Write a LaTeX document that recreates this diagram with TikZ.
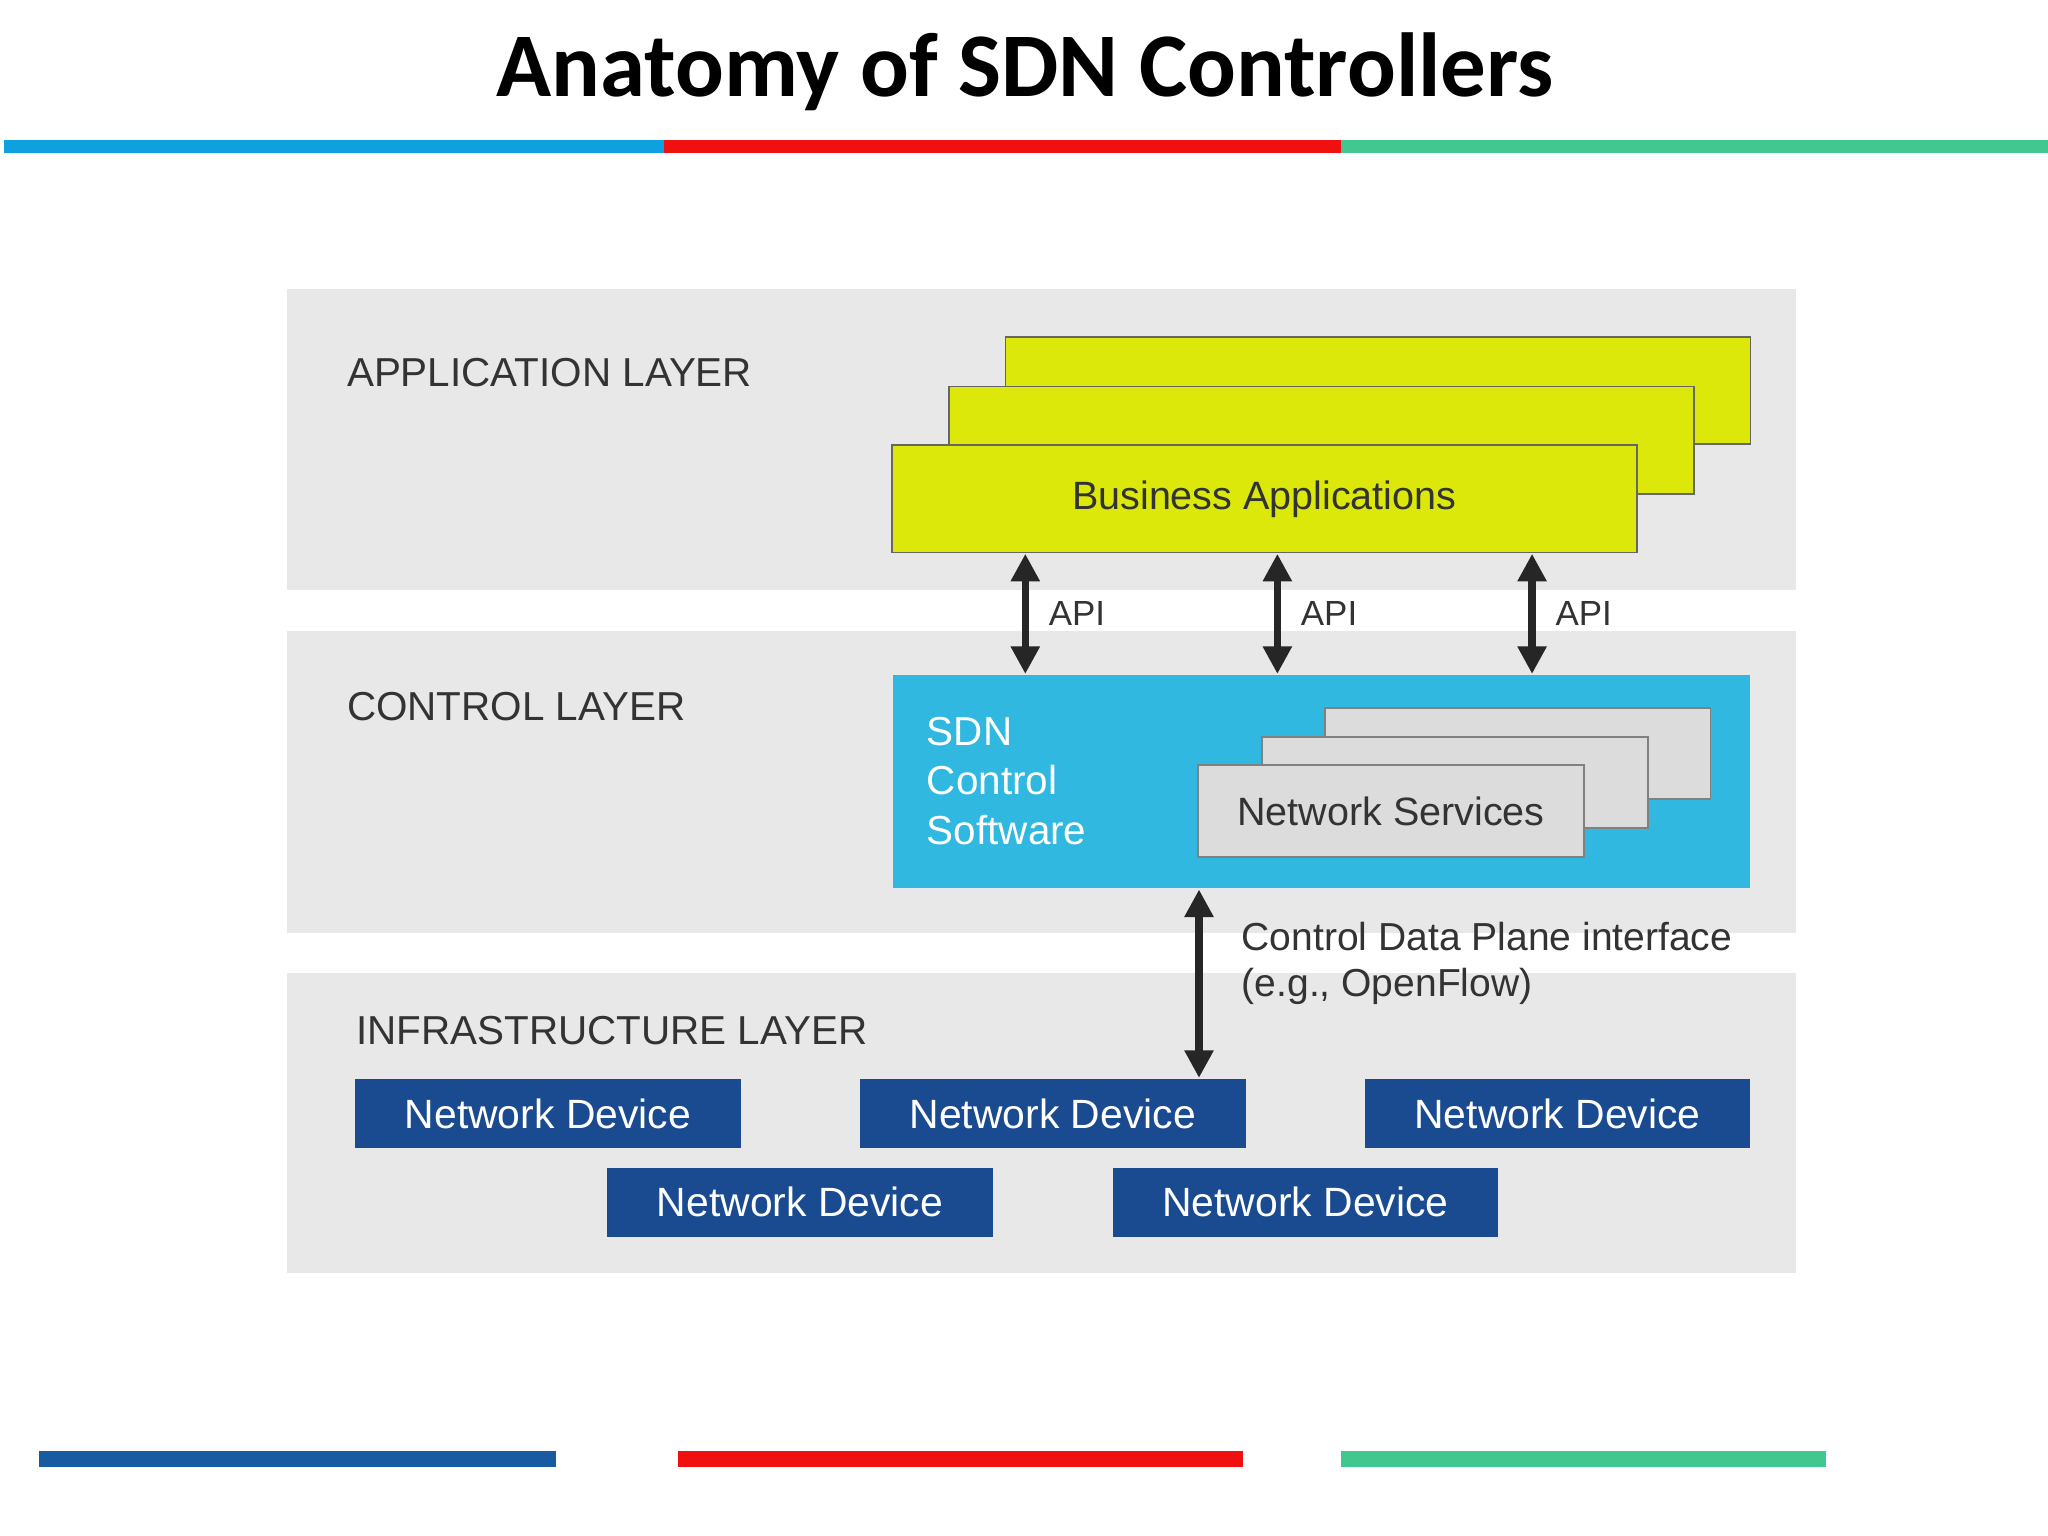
\documentclass[tikz,border=0pt]{standalone}
\usepackage{fontspec}
\setmainfont{Liberation Sans}
\newfontfamily\titlefont{Carlito}
\usetikzlibrary{positioning,arrows.meta}
\definecolor{appyellow}{HTML}{DCE80A}
\definecolor{ctrlblue}{HTML}{30B8E0}
\definecolor{devblue}{HTML}{1A4A90}
\definecolor{bandgray}{HTML}{E8E8E8}
\definecolor{svcgray}{HTML}{DCDCDC}
\definecolor{lineblue}{HTML}{0FA0E0}
\definecolor{linered}{HTML}{F01010}
\definecolor{linegreen}{HTML}{40C890}
\tikzset{x=0.01cm, y=-0.01cm, % one unit per pixel of the slide
band/.style={fill=bandgray, draw=none}, % the three layers
layer/.style={anchor=west, inner sep=0pt, font=\fontsize{8.8}{10}\selectfont, text=black!80}, % layer titles
app/.style={draw=black!60, fill=appyellow, minimum width=5.7cm, minimum height=0.82cm}, % business apps
svc/.style={draw=black!50, fill=svcgray, minimum width=2.95cm, minimum height=0.7cm}, % network services
dev/.style={fill=devblue, text=white, minimum width=2.95cm, minimum height=0.53cm, font=\fontsize{8.9}{11}\selectfont}, % devices
api/.style={{Triangle[width=6pt,length=6pt]}-{Triangle[width=6pt,length=6pt]}, line width=1.6pt, draw=black!85},
}
\begin{document}
\begin{tikzpicture}
\useasboundingbox (0,0) rectangle (1568,1176);
\node[font=\titlefont\bfseries\fontsize{19.8}{24}\selectfont] (title) at (785,55) {Anatomy of SDN Controllers};
\fill[lineblue] (3,107) rectangle (508,117);
\fill[linered] (508,107) rectangle (1027,117);
\fill[linegreen] (1027,107) rectangle (1568,117);
\fill[devblue!80!lineblue] (30,1111) rectangle (426,1123);
\fill[linered] (519,1111) rectangle (952,1123);
\fill[linegreen] (1027,1111) rectangle (1398,1123);
% layers
\fill[band] (220,221) rectangle (1375,452);
\fill[band] (220,483) rectangle (1375,714);
\fill[band] (220,745) rectangle (1375,975);
\node[layer] (applbl) at (265,285) {APPLICATION LAYER};
\node[layer] (ctrllbl) at (265,541) {CONTROL LAYER};
\node[layer] (infralbl) at (272,789) {INFRASTRUCTURE LAYER};
% applications
\node[app] (app3) at (1055,299) {};
\node[app] (app2) at (1012,337) {};
\node[app, font=\fontsize{8.6}{10}\selectfont, text=black!80] (app1) at (968,382) {Business Applications};
% controller
\node[fill=ctrlblue, minimum width=6.56cm, minimum height=1.63cm] (ctrl) at (1012,598.5) {};
\node[anchor=west, align=left, text=white, inner sep=0pt, font=\fontsize{8.8}{10.8}\selectfont] (sdn) at (709,598) {SDN\\Control\\Software};
\node[svc] (svc3) at (1162,577) {};
\node[svc] (svc2) at (1114,599) {};
\node[svc, font=\fontsize{8.6}{10}\selectfont, text=black!80] (svc1) at (1065,621) {Network Services};
% APIs
\foreach \x/\n in {785/a, 978/b, 1173/c} {
  \coordinate (\n top) at (\x,424);
  \coordinate (\n bot) at (\x,516);
  \draw[api] (\n top) -- (\n bot) node[midway, right=1pt, font=\fontsize{7.6}{9}\selectfont, text=black!80] {API};
}
% devices
\node[dev] (dev1) at (419.5,852.5) {Network Device};
\node[dev] (dev2) at (806,852.5) {Network Device};
\node[dev] (dev3) at (1192.5,852.5) {Network Device};
\node[dev] (dev4) at (612.5,920.5) {Network Device};
\node[dev] (dev5) at (999.5,920.5) {Network Device};
\coordinate (cdp) at (918,681);
\draw[api] (cdp) -- (dev2.north -| cdp);
\node[anchor=north west, align=left, inner sep=0pt, font=\fontsize{8.5}{10.2}\selectfont, text=black!80] (cdplbl) at (950,705) {Control Data Plane interface\\(e.g., OpenFlow)};
\end{tikzpicture}
\end{document}
